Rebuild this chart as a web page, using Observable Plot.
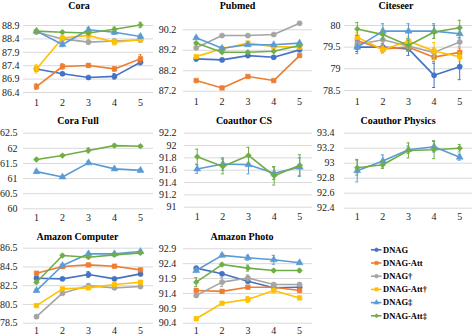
<!DOCTYPE html>
<html><head><meta charset="utf-8">
<script src="https://cdn.jsdelivr.net/npm/d3@7"></script>
<script src="https://cdn.jsdelivr.net/npm/@observablehq/plot@0.6"></script>
<style>
html,body{margin:0;padding:0;background:#fff;overflow:hidden}
#chart{position:relative;width:474px;height:336px}
#chart svg{position:absolute;left:0;top:0}
.title{position:absolute;transform:translate(-50%,-50%);font-family:"Liberation Serif","Times New Roman",serif;font-weight:bold;font-size:10px;white-space:nowrap;color:#000}
</style></head><body><div id="chart"></div>
<script>
const epochs = [1, 2, 3, 4, 5];
const methods = ["DNAG", "DNAG-Att", "DNAG†", "DNAG-Att†", "DNAG‡", "DNAG-Att‡"];
const colors = ["#4472C4", "#ED7D31", "#A5A5A5", "#FFC000", "#5B9BD5", "#70AD47"];
const symbols = ["circle", "square", "circle", "square", "triangle", "diamond2"];

// values per method (order as in methods); null = series not shown
const coraVals = [
  [87.28, 87.10, 86.96, 87.00, 87.53],
  [86.62, 87.37, 87.41, 87.28, 87.66],
  [88.66, 88.40, 88.28, 88.32, 88.36],
  [87.28, 88.43, 88.53, 88.28, 88.37],
  [88.69, 88.19, 88.74, 88.65, 88.49],
  [88.69, 88.65, 88.62, 88.76, 88.92]];
const coraErr = [
  [0.06, 0.06, 0.04, 0.10, 0.10],
  [0.10, 0.10, 0.06, 0.08, 0.15],
  [0.08, 0.08, 0.08, 0.08, 0.08],
  [0.15, 0.10, 0.10, 0.10, 0.08],
  [0.05, 0.08, 0.08, 0.08, 0.08],
  [0.05, 0.05, 0.05, 0.08, 0.10]];
const coraTicks = [86.4, 86.9, 87.4, 87.9, 88.4, 88.9];

const pubmedVals = [
  [88.78, 88.73, 88.94, 88.86, 89.22],
  [87.72, 87.36, 87.92, 87.72, 88.94],
  [89.32, 89.92, 89.92, 89.97, 90.52],
  [88.89, 89.27, 89.55, 89.38, 89.35],
  [89.81, 89.30, 89.47, 89.47, 89.55],
  [89.55, 89.10, 89.10, 89.15, 89.43]];
const pubmedErr = [
  [0.10, 0.05, 0.05, 0.08, 0.05],
  [0.05, 0.05, 0.05, 0.05, 0.05],
  [0.05, 0.05, 0.05, 0.05, 0.05],
  [0.05, 0.05, 0.05, 0.05, 0.05],
  [0.05, 0.05, 0.05, 0.05, 0.05],
  [0.05, 0.05, 0.05, 0.05, 0.05]];
const pubmedTicks = [87.2, 88.2, 89.2, 90.2];

const citeseerVals = [
  [79.50, 79.50, 79.46, 78.85, 79.05],
  [79.65, 79.46, 79.50, 79.27, 79.38],
  [79.56, 79.67, 79.52, 79.38, 79.62],
  [79.73, 79.44, 79.64, 79.41, 79.28],
  [79.50, 79.87, 79.87, 79.87, 79.81],
  [79.92, 79.79, 79.54, 79.85, 79.95]];
const citeseerErr = [
  [0.10, 0.08, 0.15, 0.28, 0.30],
  [0.08, 0.08, 0.10, 0.10, 0.10],
  [0.10, 0.10, 0.10, 0.10, 0.10],
  [0.10, 0.08, 0.10, 0.20, 0.10],
  [0.15, 0.17, 0.17, 0.17, 0.10],
  [0.15, 0.12, 0.12, 0.15, 0.17]];
const citeseerTicks = [78.5, 79, 79.5, 80];

const coraFullVals = [null, null, null, null,
  [61.23, 61.05, 61.52, 61.32, 61.27],
  [61.63, 61.76, 61.93, 62.09, 62.07]];
const coraFullErr = [null, null, null, null,
  [0.05, 0.04, 0.05, 0.05, 0.05],
  [0.04, 0.04, 0.08, 0.05, 0.04]];
const coraFullTicks = [60, 60.5, 61, 61.5, 62, 62.5];

const csVals = [null, null, null, null,
  [91.62, 91.70, 91.69, 91.55, 91.65],
  [91.82, 91.66, 91.84, 91.51, 91.68]];
const csErr = [null, null, null, null,
  [0.07, 0.10, 0.15, 0.10, 0.15],
  [0.12, 0.12, 0.13, 0.15, 0.17]];
const csTicks = [91, 91.2, 91.4, 91.6, 91.8, 92, 92.2];

const physicsVals = [null, null, null, null,
  [92.90, 93.03, 93.18, 93.22, 93.08],
  [92.94, 92.98, 93.17, 93.18, 93.20]];
const physicsErr = [null, null, null, null,
  [0.15, 0.08, 0.05, 0.07, 0.04],
  [0.10, 0.05, 0.10, 0.12, 0.05]];
const physicsTicks = [92.4, 92.6, 92.8, 93, 93.2, 93.4];

const computerVals = [
  [83.30, 83.23, 83.69, 83.23, 83.76],
  [83.83, 84.54, 84.72, 84.58, 84.19],
  [79.20, 81.70, 82.51, 82.27, 82.41],
  [80.38, 82.16, 82.27, 82.62, 82.87],
  [81.98, 84.65, 85.90, 85.90, 86.14],
  [82.87, 85.72, 85.54, 85.79, 86.00]];
const computerErr = [
  [0.15, 0.15, 0.30, 0.15, 0.15],
  [0.15, 0.15, 0.15, 0.15, 0.15],
  [0.15, 0.15, 0.15, 0.15, 0.15],
  [0.15, 0.15, 0.15, 0.15, 0.15],
  [0.15, 0.15, 0.15, 0.15, 0.15],
  [0.15, 0.15, 0.15, 0.15, 0.15]];
const computerTicks = [78.5, 80.5, 82.5, 84.5, 86.5];

const photoVals = [
  [92.25, 92.06, 91.81, 91.59, 91.61],
  [91.50, 91.47, 91.61, 91.61, 91.50],
  [91.33, 91.78, 91.92, 91.70, 91.70],
  [90.55, 91.07, 91.20, 91.50, 91.25],
  [92.17, 92.68, 92.60, 92.53, 92.43],
  [91.78, 92.37, 92.25, 92.17, 92.17]];
const photoErr = [
  [0.05, 0.05, 0.05, 0.05, 0.05],
  [0.05, 0.05, 0.05, 0.05, 0.05],
  [0.05, 0.15, 0.10, 0.05, 0.05],
  [0.05, 0.05, 0.10, 0.05, 0.05],
  [0.05, 0.05, 0.08, 0.15, 0.05],
  [0.15, 0.05, 0.10, 0.05, 0.05]];
const photoTicks = [90.4, 90.9, 91.4, 91.9, 92.4, 92.9];

const panels = [
  {title: "Cora", vals: coraVals, errs: coraErr, ticks: coraTicks, x0: 23, x1: 153, yTop: 25, yBot: 92, pad: 4, xpad: 6, tx: 79, ty: 5},
  {title: "Pubmed", vals: pubmedVals, errs: pubmedErr, ticks: pubmedTicks, x0: 182.8, x1: 312, yTop: 29.3, yBot: 90.7, pad: 7, xpad: 7, tx: 237.5, ty: 5},
  {title: "Citeseer", vals: citeseerVals, errs: citeseerErr, ticks: citeseerTicks, x0: 344, x1: 472, yTop: 25, yBot: 90, pad: 4, xpad: 7, tx: 396, ty: 5},
  {title: "Cora Full", vals: coraFullVals, errs: coraFullErr, ticks: coraFullTicks, x0: 23, x1: 153, yTop: 132.7, yBot: 208.3, pad: 6, xpad: 5, tx: 78, ty: 119.5},
  {title: "Coauthor CS", vals: csVals, errs: csErr, ticks: csTicks, x0: 183.9, x1: 312.1, yTop: 132.7, yBot: 206.7, pad: 8, xpad: 6, tx: 244, ty: 119.5},
  {title: "Coauthor Physics", vals: physicsVals, errs: physicsErr, ticks: physicsTicks, x0: 343.9, x1: 472, yTop: 132.7, yBot: 207.7, pad: 10, xpad: 5, tx: 398, ty: 119.5},
  {title: "Amazon Computer", vals: computerVals, errs: computerErr, ticks: computerTicks, x0: 23, x1: 153, yTop: 247.7, yBot: 322.7, pad: 6, xpad: 4, tx: 77.5, ty: 235.5},
  {title: "Amazon Photo", vals: photoVals, errs: photoErr, ticks: photoTicks, x0: 182.8, x1: 312, yTop: 248.3, yBot: 322.7, pad: 7, xpad: 4, tx: 242, ty: 235.5}
];

const W = 474, H = 336;
const chart = document.getElementById("chart");
const baseStyle = "background: transparent; font-family: 'Liberation Serif', 'Times New Roman', serif; font-size: 10px; color: #222; overflow: visible;";

for (const p of panels) {
  const marks = [Plot.ruleY(p.ticks, {stroke: "#d9d9d9", strokeWidth: 1})];
  p.vals.forEach((vals, i) => {
    if (!vals) return;
    const rows = epochs.map((x, j) => ({x, y: vals[j], e: p.errs[i][j]}));
    const c = colors[i];
    marks.push(
      Plot.line(rows, {x: "x", y: "y", stroke: c, strokeWidth: 1.6}),
      Plot.ruleX(rows, {x: "x", y1: d => d.y - d.e, y2: d => d.y + d.e, stroke: c, strokeWidth: 1}),
      Plot.ruleY(rows, {x1: d => d.x - 0.06, x2: d => d.x + 0.06, y: d => d.y - d.e, stroke: c, strokeWidth: 1}),
      Plot.ruleY(rows, {x1: d => d.x - 0.06, x2: d => d.x + 0.06, y: d => d.y + d.e, stroke: c, strokeWidth: 1}),
      Plot.dot(rows, {x: "x", y: "y", symbol: symbols[i], fill: c, stroke: c, strokeWidth: 0.5, r: 2.6})
    );
  });
  const svg = Plot.plot({
    width: W, height: H,
    marginLeft: p.x0, marginRight: W - p.x1, marginTop: p.yTop, marginBottom: H - p.yBot,
    style: baseStyle,
    x: {domain: [0.5, 5.5], ticks: epochs, tickSize: 0, tickPadding: p.xpad, tickFormat: d => String(d), label: null},
    y: {domain: [p.ticks[0], p.ticks[p.ticks.length - 1]], ticks: p.ticks, tickSize: 0, tickPadding: p.pad, tickFormat: d => String(d), label: null},
    marks
  });
  chart.appendChild(svg);
  const t = document.createElement("div");
  t.className = "title";
  t.textContent = p.title;
  t.style.left = p.tx + "px";
  t.style.top = p.ty + "px";
  chart.appendChild(t);
}

// legend
const legendRows = methods.map((m, i) => ({i, m}));
const legendMarks = [];
legendRows.forEach(d => {
  const c = colors[d.i];
  legendMarks.push(
    Plot.link([d], {x1: 0.5, x2: 11, y1: "i", y2: "i", stroke: c, strokeWidth: 1.6}),
    Plot.dot([d], {x: 6, y: "i", symbol: symbols[d.i], fill: c, stroke: c, strokeWidth: 0.5, r: 1.9}),
    Plot.text([d], {x: 12.5, y: "i", text: "m", textAnchor: "start", fontWeight: "bold", fontSize: 8.5, fill: "#000"})
  );
});
chart.appendChild(Plot.plot({
  width: W, height: H,
  marginLeft: 370, marginRight: W - 382, marginTop: 249.3, marginBottom: H - 315.3,
  style: baseStyle,
  x: {domain: [0, 12], axis: null},
  y: {domain: [0, 5], axis: null, reverse: true},
  marks: legendMarks
}));
</script></body></html>
